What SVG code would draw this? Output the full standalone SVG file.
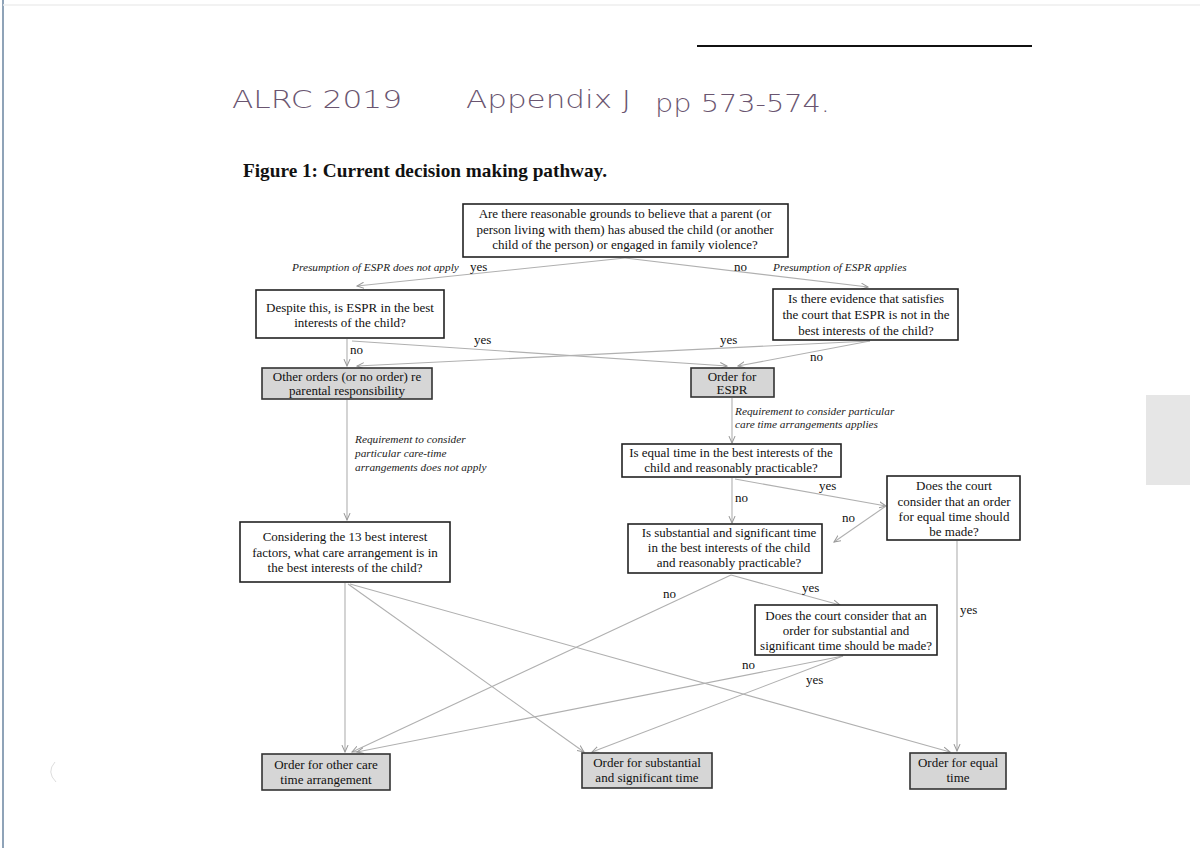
<svg xmlns="http://www.w3.org/2000/svg" width="1200" height="848" viewBox="0 0 1200 848">
<defs>
<style>
.bx{fill:#fff;stroke:#222;stroke-width:1.6}
.tm{fill:#d6d6d6;stroke:#333;stroke-width:1.6}
.t{font-family:"Liberation Serif",serif;font-size:13px;fill:#111;text-anchor:middle}
.it{font-family:"Liberation Serif",serif;font-size:11.3px;font-style:italic;fill:#222}
.lb{font-family:"Liberation Serif",serif;font-size:13px;fill:#111}
.hw{font-family:"DejaVu Sans",sans-serif;font-size:24px;fill:#6a5570;font-weight:200}
.cn{fill:none;stroke:#b0b0b0;stroke-width:1.1;marker-end:url(#ah)}
</style>
<marker id="ah" viewBox="0 0 10 10" refX="9" refY="5" markerWidth="7" markerHeight="7" orient="auto">
<path d="M0,1 L9,5 L0,9" fill="none" stroke="#999" stroke-width="1.3"/>
</marker>
</defs>
<rect width="1200" height="848" fill="#fff"/>
<line x1="3" y1="0" x2="3" y2="848" stroke="#8fa3b8" stroke-width="2"/>
<line x1="3" y1="5" x2="1200" y2="5" stroke="#eee" stroke-width="1.5"/>
<rect x="1146" y="395" width="44" height="90" fill="#e6e6e6"/>
<path d="M55,762 Q46,772 56,782" fill="none" stroke="#ddd" stroke-width="1"/>
<line x1="697" y1="46" x2="1032" y2="46" stroke="#111" stroke-width="2"/>
<text class="hw" x="232" y="108" textLength="170" lengthAdjust="spacingAndGlyphs">ALRC  2019</text>
<text class="hw" x="466" y="108" textLength="165" lengthAdjust="spacingAndGlyphs">Appendix J</text>
<text class="hw" x="655" y="112" textLength="175" lengthAdjust="spacingAndGlyphs">pp 573-574.</text>
<text x="243" y="177" font-family="Liberation Serif,serif" font-size="19" font-weight="bold" fill="#111" textLength="364" lengthAdjust="spacingAndGlyphs">Figure 1: Current decision making pathway.</text>

<g id="connectors">
<path class="cn" d="M625,258 L357,286"/>
<path class="cn" d="M625,258 L868,287"/>
<path class="cn" d="M347,339 L347,366"/>
<path class="cn" d="M352,341 L727,366"/>
<path class="cn" d="M870,341 L357,366"/>
<path class="cn" d="M870,341 L738,366"/>
<path class="cn" d="M732,398 L732,443"/>
<path class="cn" d="M347,400 L347,520"/>
<path class="cn" d="M732,478 L732,523"/>
<path class="cn" d="M735,479 L886,506"/>
<path class="cn" d="M886,506 L834,542"/>
<path class="cn" d="M957,541 L957,751"/>
<path class="cn" d="M731,575 L840,605"/>
<path class="cn" d="M731,575 L352,752"/>
<path class="cn" d="M843,656 L357,752"/>
<path class="cn" d="M843,656 L592,752"/>
<path class="cn" d="M345,583 L345,752"/>
<path class="cn" d="M348,584 L584,752"/>
<path class="cn" d="M350,584 L950,752"/>
</g>

<g id="labels">
<text class="it" x="292" y="271">Presumption of ESPR does not apply</text>
<text class="lb" x="470" y="271">yes</text>
<text class="lb" x="734" y="271">no</text>
<text class="it" x="773" y="271">Presumption of ESPR applies</text>
<text class="lb" x="474" y="344">yes</text>
<text class="lb" x="720" y="344">yes</text>
<text class="lb" x="350" y="354">no</text>
<text class="lb" x="810" y="361">no</text>
<text class="it" x="735" y="415">Requirement to consider particular</text>
<text class="it" x="735" y="428">care time arrangements applies</text>
<text class="it" x="355" y="443">Requirement to consider</text>
<text class="it" x="355" y="457">particular care-time</text>
<text class="it" x="355" y="471">arrangements does not apply</text>
<text class="lb" x="819" y="490">yes</text>
<text class="lb" x="735" y="502">no</text>
<text class="lb" x="842" y="522">no</text>
<text class="lb" x="960" y="614">yes</text>
<text class="lb" x="802" y="592">yes</text>
<text class="lb" x="663" y="598">no</text>
<text class="lb" x="742" y="669">no</text>
<text class="lb" x="806" y="684">yes</text>
</g>

<g id="q1">
<rect class="bx" x="463" y="204" width="325" height="53"/>
<text class="t" x="625" y="218">Are there reasonable grounds to believe that a parent (or</text>
<text class="t" x="625" y="234">person living with them) has abused the child (or another</text>
<text class="t" x="625" y="249">child of the person) or engaged in family violence?</text>
</g>
<g id="q2">
<rect class="bx" x="256" y="290" width="188" height="48"/>
<text class="t" x="350" y="312">Despite this, is ESPR in the best</text>
<text class="t" x="350" y="327">interests of the child?</text>
</g>
<g id="q3">
<rect class="bx" x="773" y="289" width="185" height="51"/>
<text class="t" x="866" y="303">Is there evidence that satisfies</text>
<text class="t" x="866" y="319">the court that ESPR is not in the</text>
<text class="t" x="866" y="335">best interests of the child?</text>
</g>
<g id="o1">
<rect class="tm" x="262" y="368" width="170" height="31"/>
<text class="t" x="347" y="381">Other orders (or no order) re</text>
<text class="t" x="347" y="395">parental responsibility</text>
</g>
<g id="o2">
<rect class="tm" x="691" y="368" width="83" height="29"/>
<text class="t" x="732" y="381">Order for</text>
<text class="t" x="732" y="394">ESPR</text>
</g>
<g id="q4">
<rect class="bx" x="622" y="444" width="219" height="33"/>
<text class="t" x="731" y="457">Is equal time in the best interests of the</text>
<text class="t" x="731" y="472">child and reasonably practicable?</text>
</g>
<g id="q5">
<rect class="bx" x="887" y="476" width="133" height="64"/>
<text class="t" x="954" y="490">Does the court</text>
<text class="t" x="954" y="506">consider that an order</text>
<text class="t" x="954" y="521">for equal time should</text>
<text class="t" x="954" y="536">be made?</text>
</g>
<g id="q6">
<rect class="bx" x="628" y="524" width="194" height="49"/>
<text class="t" x="729" y="537">Is substantial and significant time</text>
<text class="t" x="729" y="552">in the best interests of the child</text>
<text class="t" x="729" y="567">and reasonably practicable?</text>
</g>
<g id="q7">
<rect class="bx" x="240" y="522" width="210" height="60"/>
<text class="t" x="345" y="541">Considering the 13 best interest</text>
<text class="t" x="345" y="557">factors, what care arrangement is in</text>
<text class="t" x="345" y="572">the best interests of the child?</text>
</g>
<g id="q8">
<rect class="bx" x="755" y="605" width="182" height="50"/>
<text class="t" x="846" y="620">Does the court consider that an</text>
<text class="t" x="846" y="635">order for substantial and</text>
<text class="t" x="846" y="650">significant time should be made?</text>
</g>
<g id="o3">
<rect class="tm" x="262" y="754" width="128" height="36"/>
<text class="t" x="326" y="769">Order for other care</text>
<text class="t" x="326" y="784">time arrangement</text>
</g>
<g id="o4">
<rect class="tm" x="582" y="753" width="130" height="35"/>
<text class="t" x="647" y="767">Order for substantial</text>
<text class="t" x="647" y="782">and significant time</text>
</g>
<g id="o5">
<rect class="tm" x="910" y="753" width="96" height="36"/>
<text class="t" x="958" y="767">Order for equal</text>
<text class="t" x="958" y="782">time</text>
</g>
</svg>
